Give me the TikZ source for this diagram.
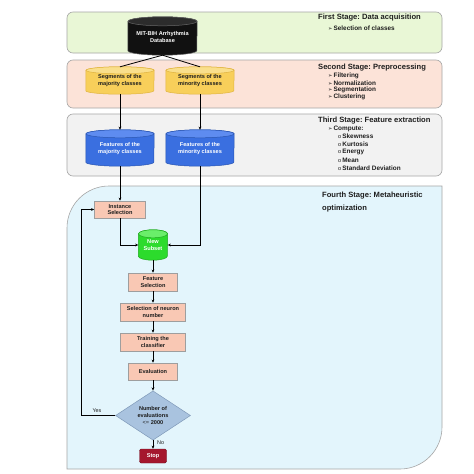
\documentclass[tikz,border=0pt]{standalone}
\usepackage{fontspec}
\setmainfont{Liberation Sans}
\newfontfamily\dvfont{DejaVu Sans}
\usetikzlibrary{arrows.meta,shapes.geometric,calc}
\frenchspacing
\definecolor{sone}{HTML}{E9F7D6}
\definecolor{stwo}{HTML}{FCE3D8}
\definecolor{sthree}{HTML}{F2F2F2}
\definecolor{sfour}{HTML}{E3F5FC}
\definecolor{sborder}{HTML}{A6A6A6}
\definecolor{segbody}{HTML}{F8CF5A}
\definecolor{segtop}{HTML}{FADF8C}
\definecolor{segline}{HTML}{E0B440}
\definecolor{featbody}{HTML}{3A6FE0}
\definecolor{feattop}{HTML}{5E8CF0}
\definecolor{featline}{HTML}{2A55B0}
\definecolor{nsbody}{HTML}{2CDB2C}
\definecolor{nstop}{HTML}{6AEE6A}
\definecolor{nsline}{HTML}{1FA81F}
\definecolor{dbbody}{HTML}{111111}
\definecolor{dbtop}{HTML}{2C2C2C}
\definecolor{dbline}{HTML}{666666}
\definecolor{procfill}{HTML}{F9C8B4}
\definecolor{procline}{HTML}{9E9E9E}
\definecolor{decfill}{HTML}{A9C3DF}
\definecolor{decline}{HTML}{7F99B8}
\definecolor{stopfill}{HTML}{A5172E}
\definecolor{txt}{HTML}{1E1E1E}
\pgfdeclarelayer{back}
\pgfdeclarelayer{mid}
\pgfsetlayers{back,mid,main}
% #1 node name, #2 half width, #3 ellipse y radius, #4 body, #5 top, #6 line
\newcommand\drawcylinder[6]{%
  \begin{pgfonlayer}{mid}
  \draw[draw=#6,line width=0.5pt,fill=#4]
    ([yshift=-#3]#1.north west) -- ([yshift=#3]#1.south west)
    arc[start angle=180,end angle=360,x radius=#2,y radius=#3]
    -- ([yshift=-#3]#1.north east)
    arc[start angle=0,end angle=180,x radius=#2,y radius=#3] -- cycle;
  \draw[draw=#6,line width=0.5pt,fill=#5]
    ([yshift=-#3]#1.north) ellipse[x radius=#2,y radius=#3];
  \end{pgfonlayer}}
\tikzset{
  stagebox/.style={draw=sborder,line width=0.6pt},
  cylnode/.style={rectangle,inner sep=0pt,align=center,font=\fontsize{5.6}{6.8}\selectfont\bfseries},
  procbox/.style={rectangle,draw=procline,fill=procfill,line width=0.5pt,inner sep=0pt,align=center,text=txt,font=\fontsize{5.6}{6.8}\selectfont\bfseries},
  decbox/.style={diamond,draw=decline,fill=decfill,line width=0.5pt,inner sep=0pt,align=center,text=txt,font=\fontsize{5.6}{7.2}\selectfont\bfseries},
  stopbox/.style={rectangle,rounded corners=1.5pt,fill=stopfill,draw=stopfill!70!black,line width=0.4pt,text=white,inner sep=0pt,font=\fontsize{5.6}{6.8}\selectfont\bfseries},
  title/.style={anchor=west,inner sep=0pt,text=txt,font=\fontsize{7.6}{9}\selectfont\bfseries},
  item/.style={anchor=west,inner sep=0pt,text=txt,font=\fontsize{6.4}{7.5}\selectfont\bfseries},
  flowlabel/.style={inner sep=0pt,text=txt,font=\fontsize{5.4}{6.5}\selectfont},
  conn/.style={draw=black,line width=0.8pt},
  arr/.style={conn,-{Stealth[length=3.2pt,width=2.8pt]}}
}
\newcommand\arrowbullet{{\dvfont\fontsize{5.2}{6}\selectfont ➢}\,}
\newcommand\circbullet{{\fontsize{5.6}{6}\selectfont\mdseries o}\,}
\begin{document}
\begin{tikzpicture}[x=1pt,y=-1pt]
\useasboundingbox (0,0) rectangle (474,474);
% stage backgrounds
\begin{pgfonlayer}{back}
\fill[white] (0,0) rectangle (474,474);
\draw[stagebox,fill=sone,rounded corners=6pt] (67,12) rectangle (442,53);
\draw[stagebox,fill=stwo,rounded corners=6pt] (67,60) rectangle (442,108);
\draw[stagebox,fill=sthree,rounded corners=6pt] (67,114) rectangle (442,176);
\draw[stagebox,fill=sfour] (67,469) -- (67,228)
  arc[start angle=180,end angle=90,radius=42pt] -- (442,186) -- (442,427)
  arc[start angle=0,end angle=-90,radius=42pt] -- cycle;
\end{pgfonlayer}
% stage texts
\node[title] (t1) at (318,18) {First Stage: Data acquisition};
\node[item] (t1a) at (328,28.5) {\arrowbullet Selection of classes};
\node[title] (t2) at (318,68) {Second Stage: Preprocessing};
\node[item] (t2a) at (328,76) {\arrowbullet Filtering};
\node[item] (t2b) at (328,83) {\arrowbullet Normalization};
\node[item] (t2c) at (328,90) {\arrowbullet Segmentation};
\node[item] (t2d) at (328,97) {\arrowbullet Clustering};
\node[title] (t3) at (318,121) {Third Stage: Feature extraction};
\node[item] (t3a) at (328,128.5) {\arrowbullet Compute:};
\node[item] (t3b) at (338,136) {\circbullet Skewness};
\node[item] (t3c) at (338,144) {\circbullet Kurtosis};
\node[item] (t3d) at (338,152) {\circbullet Energy};
\node[item] (t3e) at (338,160) {\circbullet Mean};
\node[item] (t3f) at (338,168) {\circbullet Standard Deviation};
\node[title,anchor=north west,align=left,font=\fontsize{7.6}{13}\selectfont\bfseries] (t4) at (322,191.5) {Fourth Stage: Metaheuristic\\optimization};
% cylinders
\node[cylnode,text=white,minimum width=69pt,minimum height=38pt] (db) at (162.5,36) {\\[-1pt]MIT-BIH Arrhythmia\\Database};
\drawcylinder{db}{34.5pt}{4.5pt}{dbbody}{dbtop}{dbline}
\node[cylnode,text=txt,minimum width=68pt,minimum height=27pt] (segmaj) at (120,80.5) {\\[-3pt]Segments of the\\majority classes};
\drawcylinder{segmaj}{34pt}{3.5pt}{segbody}{segtop}{segline}
\node[cylnode,text=txt,minimum width=68pt,minimum height=27pt] (segmin) at (200,80.5) {\\[-3pt]Segments of the\\minority classes};
\drawcylinder{segmin}{34pt}{3.5pt}{segbody}{segtop}{segline}
\node[cylnode,text=white,minimum width=68pt,minimum height=36pt] (featmaj) at (120,148) {\\[-1pt]Features of the\\majority classes};
\drawcylinder{featmaj}{34pt}{4pt}{featbody}{feattop}{featline}
\node[cylnode,text=white,minimum width=68pt,minimum height=36pt] (featmin) at (200,148) {\\[-1pt]Features of the\\minority classes};
\drawcylinder{featmin}{34pt}{4pt}{featbody}{feattop}{featline}
\node[cylnode,text=white,minimum width=29pt,minimum height=30pt] (newsub) at (153,245) {\\[-2pt]New\\Subset};
\drawcylinder{newsub}{14.5pt}{4pt}{nsbody}{nstop}{nsline}
% process boxes
\node[procbox,minimum width=51pt,minimum height=17pt] (inst) at (120,209.5) {Instance\\Selection};
\node[procbox,minimum width=49pt,minimum height=18pt] (featsel) at (153,282) {Feature\\Selection};
\node[procbox,minimum width=65pt,minimum height=18pt] (neuron) at (153,312) {Selection of neuron\\number};
\node[procbox,minimum width=65pt,minimum height=18pt] (train) at (153,342) {Training the\\classifier};
\node[procbox,minimum width=49pt,minimum height=17pt] (eval) at (153,371.5) {Evaluation};
\node[decbox,minimum width=75pt,minimum height=45pt] (dec) at (153,415.5) {Number of\\evaluations\\{\mdseries <=} 2000};
\node[stopbox,minimum width=27pt,minimum height=14pt] (stop) at (153,456) {Stop};
% connectors
\draw[conn] (db.south) -- (segmaj.north);
\draw[conn] (db.south) -- (segmin.north);
\draw[arr] (segmaj.south) -- (featmaj.north);
\draw[arr] (segmin.south) -- (featmin.north);
\draw[arr] (featmaj.south) -- (inst.north);
\draw[arr] (inst.south) |- (newsub.west);
\draw[arr] (featmin.south) |- (newsub.east);
\draw[arr] (newsub.south) -- (featsel.north);
\draw[arr] (featsel.south) -- (neuron.north);
\draw[arr] (neuron.south) -- (train.north);
\draw[arr] (train.south) -- (eval.north);
\draw[arr] (eval.south) -- (dec.north);
\draw[arr] (dec.south) -- (stop.north);
\coordinate (yesturn) at (81,415.5);
\draw[arr] (dec.west) -- (yesturn) |- (inst.west);
\node[flowlabel] (yes) at (97,410.5) {Yes};
\node[flowlabel,anchor=west] (no) at (157,443) {No};
\end{tikzpicture}
\end{document}
